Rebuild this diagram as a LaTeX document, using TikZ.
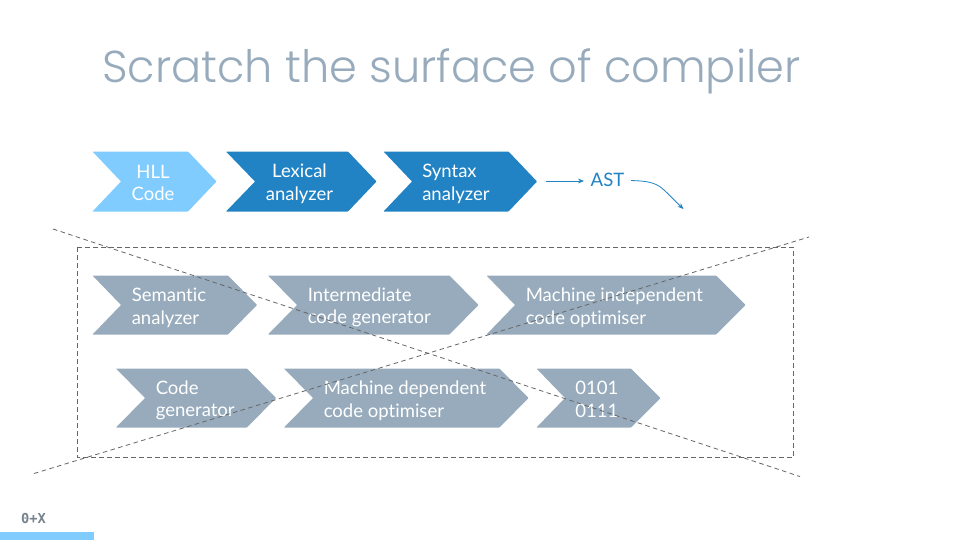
\documentclass[tikz,border=0pt]{standalone}
\usepackage{fontspec}
\setmainfont{Lato}[Ligatures=NoCommon]
\newfontfamily\titlefont{Poppins Light}[Ligatures=NoCommon]
\newfontfamily\logofont{DejaVu Sans Mono}
\usetikzlibrary{arrows.meta}
\definecolor{slate}{HTML}{97ABBC}
\definecolor{sky}{HTML}{80CCFF}
\definecolor{deep}{HTML}{2183C4}
\definecolor{dash}{HTML}{666666}
\definecolor{logoc}{HTML}{76838F}
\tikzset{
  lbl/.style={text=white,font=\fontsize{13.9}{17}\selectfont,inner sep=0pt,align=left,anchor=west},
  clbl/.style={text=white,font=\fontsize{13.9}{17}\selectfont,inner sep=0pt,align=center,anchor=center},
  cross/.style={draw=dash,line width=0.6pt,dash pattern=on 3.4pt off 2.6pt},
  flow/.style={draw=deep,line width=0.6pt,-{Stealth[length=4.5pt,width=3.6pt]}}
}
% #1 colour, #2 left, #3 top, #4 shoulder, #5 tip, #6 notch, #7 bottom
\newcommand{\chevshape}[7]{\fill[#1,rounded corners=0.5pt] (#2,#3) -- (#4,#3) -- (#5,{(#3+#7)/2}) -- (#4,#7) -- (#2,#7) -- (#6,{(#3+#7)/2}) -- cycle;}
\begin{document}
\begin{tikzpicture}[x=0.75pt,y=-0.75pt]
\useasboundingbox (0,0) rectangle (960,540);
\fill[white] (0,0) rectangle (960,540);
\node[text=slate,font=\titlefont\fontsize{33.5}{40}\selectfont,inner sep=0pt,anchor=base west] (title) at (102,82.5) {Scratch the surface of compiler};
% row 1
\chevshape{sky}{92.5}{151.5}{188}{216.5}{121}{211.5}
\chevshape{deep}{226}{151.5}{348}{376.5}{255}{211.5}
\chevshape{deep}{383.5}{151.5}{508.5}{537}{412}{211.5}
\node[clbl] (hll) at (153,183) {HLL\\Code};
\node[clbl] (lex) at (299.5,184) {Lexical\\analyzer};
\node[lbl] (syn) at (422,184) {Syntax\\analyzer};
% row 2
\chevshape{slate}{92.5}{275.5}{228}{257}{121}{334.5}
\chevshape{slate}{268}{275.5}{449.5}{478.5}{297}{334.5}
\chevshape{slate}{486.5}{275.5}{716}{745.5}{515}{334.5}
\node[lbl] (sem) at (131.5,307.5) {Semantic\\analyzer};
\node[lbl] (inter) at (307.5,307.5) {Intermediate\\code generator};
\node[lbl] (mi) at (525.5,307.5) {Machine independent\\code optimiser};
% row 3
\chevshape{slate}{116}{368.5}{247}{276}{145}{427.5}
\chevshape{slate}{284}{368.5}{499.5}{528.5}{313}{427.5}
\chevshape{slate}{536.5}{368.5}{631}{660.5}{565}{427.5}
\node[lbl] (cg) at (155.5,400.5) {Code\\generator};
\node[lbl] (md) at (323.5,400.5) {Machine dependent\\code optimiser};
\node[lbl] (bin) at (575,399.5) {0101\\0111};
% AST
\node[text=deep,font=\fontsize{13.9}{17}\selectfont,inner sep=0pt] (ast) at (607.5,179.5) {AST};
\coordinate (synout) at (545.5,181);
\coordinate (astin) at (584,181);
\coordinate (astout) at (631,180.5);
\coordinate (down) at (683.5,209);
\draw[flow] (synout) -- (astin);
\draw[flow] (astout) .. controls (644,181) and (651,181.5) .. (659,186) .. controls (665,190) and (675,201) .. (down);
% dashed cross
\coordinate (boxa) at (77.5,247);
\coordinate (boxb) at (793,457.5);
\coordinate (da) at (53,229);
\coordinate (db) at (800,476.5);
\coordinate (dc) at (34,473.5);
\coordinate (dd) at (809,237);
\draw[cross] (boxa) rectangle (boxb);
\draw[cross] (da) -- (db);
\draw[cross] (dc) -- (dd);
% footer
\node[text=logoc,font=\logofont\bfseries\fontsize{10.3}{12}\selectfont,inner sep=0pt] (logo) at (33.5,518) {0+X};
\fill[sky] (0,532) rectangle (94,540);
\end{tikzpicture}
\end{document}
